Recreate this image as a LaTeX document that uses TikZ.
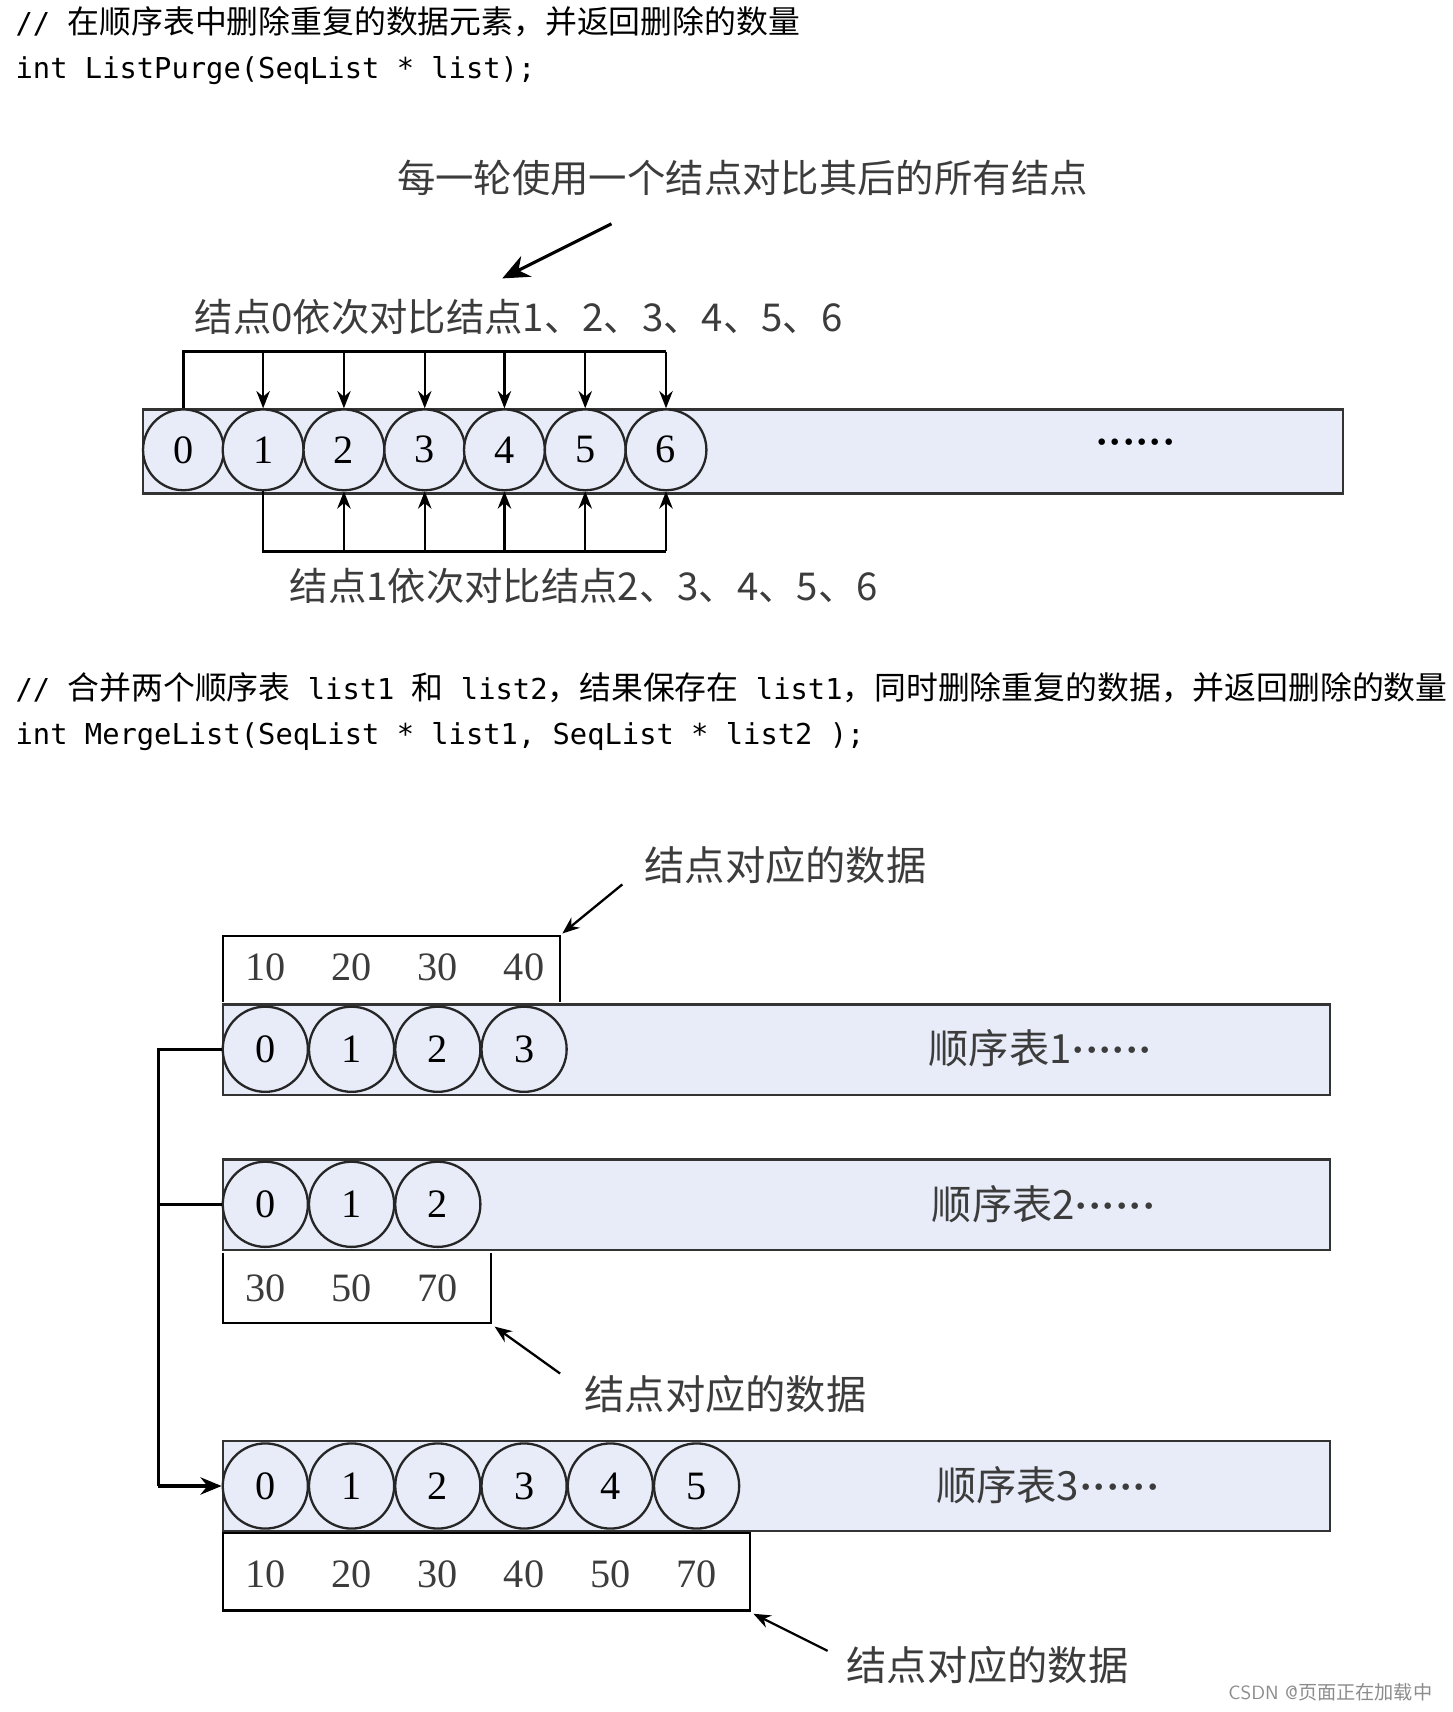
\documentclass[tikz,border=0pt]{standalone}
\usepackage{fontspec}
\setmainfont{Liberation Serif}
\setmonofont{DejaVu Sans Mono}
\newfontfamily\cjk{Noto Sans CJK SC}
\newcommand\cc[1]{{\cjk\fontsize{16.6}{18}\selectfont #1}}
\usetikzlibrary{positioning,arrows.meta}
\definecolor{barfill}{RGB}{232,236,248}
\definecolor{txtgrey}{RGB}{60,60,60}

\begin{document}
\begin{tikzpicture}[x=0.02cm,y=-0.02cm,
   bar/.style={draw=black!80,line width=1.2pt,fill=barfill},
   cell/.style={circle,draw=black!85,line width=1.2pt,fill=barfill,minimum size=1.48cm,inner sep=0pt,
                font=\fontsize{21}{24}\selectfont},
   num/.style={font=\fontsize{21}{24}\selectfont,text=txtgrey},
   code/.style={anchor=west,inner sep=0pt,font=\ttfamily\fontsize{15}{18}\selectfont},
   note/.style={font=\cjk\fontsize{20}{24}\selectfont,text=txtgrey,inner sep=0pt},
   link/.style={line width=1.2pt,-{Stealth[length=9pt,width=7pt]}},
   bigtip/.style={line width=1.6pt,-{Stealth[length=14pt,width=12pt]}},
   tie/.style={line width=1.6pt}]
   \useasboundingbox (0,0) rectangle (1330,1568);
   % code lines
   \node[code] (l1) at (14,20) {// \cc{在顺序表中删除重复的数据元素，并返回删除的数量}};
   \node[code] (l2) at (14,65) {int ListPurge(SeqList * list);};
   \node[code] (l3) at (14,630) {// \cc{合并两个顺序表} list1 \cc{和} list2\cc{，结果保存在} list1\cc{，同时删除重复的数据，并返回删除的数量}};
   \node[code] (l4) at (14,675) {int MergeList(SeqList * list1, SeqList * list2 );};

   % first picture
   \node[note] (title) at (680,163) {每一轮使用一个结点对比其后的所有结点};
   \coordinate (ta) at (560,205);
   \coordinate (tb) at (460,255);
   \draw[bigtip] (ta) -- (tb);
   \node[note,anchor=west] (top) at (178,290) {结点0依次对比结点1、2、3、4、5、6};
   \draw[bar] (131,375) rectangle (1230,452);
   \foreach \i/\x in {0/168,1/241,2/315,3/389,4/462,5/536,6/610}
      \node[cell] (c\i) at (\x,412) {\i};
   \node[font=\fontsize{21}{24}\selectfont] (dots) at (1040,410) {\textbf{\textperiodcentered\textperiodcentered\textperiodcentered\textperiodcentered\textperiodcentered\textperiodcentered}};
   \coordinate (u0) at (168,322);
   \coordinate (u6) at (610,322);
   \draw[line width=1.2pt] (c0.north) -- (u0) -- (u6);
   \foreach \i in {1,...,6}
      \draw[link] (c\i.north |- u0) -- (c\i.north);
   \coordinate (d1) at (241,505);
   \coordinate (d6) at (610,505);
   \draw[line width=1.2pt] (c1.south) -- (d1) -- (d6);
   \foreach \i in {2,...,6}
      \draw[link] (c\i.south |- d1) -- (c\i.south);
   \node[note,anchor=west] (bottom) at (265,537) {结点1依次对比结点2、3、4、5、6};

   % second picture
   \node[note,anchor=west,font=\cjk\fontsize{21}{24}\selectfont] (n1) at (590,792) {结点对应的数据};
   \coordinate (n1a) at (570,810);
   \coordinate (n1b) at (515,855);
   \draw[link] (n1a) -- (n1b);
   \draw[line width=1.2pt] (204,918) -- (204,857) -- (513,857) -- (513,918);
   \foreach \v [count=\k from 0] in {10,20,30,40}
      \node[num] (p\k) at (243+79*\k,886) {\v};
   \draw[bar] (204,920) rectangle (1218,1003);
   \foreach \k in {0,...,3}
      \node[cell,minimum size=1.56cm] (a\k) at (243+79*\k,961) {\k};
   \node[note,anchor=west,font=\cjk\fontsize{21}{24}\selectfont] (s1) at (850,960) {顺序表1{\rmfamily\textbf{\textperiodcentered\textperiodcentered\textperiodcentered\textperiodcentered\textperiodcentered\textperiodcentered}}};

   \draw[bar] (204,1062) rectangle (1218,1145);
   \foreach \k in {0,...,2}
      \node[cell,minimum size=1.56cm] (b\k) at (243+79*\k,1103) {\k};
   \node[note,anchor=west,font=\cjk\fontsize{21}{24}\selectfont] (s2) at (853,1103) {顺序表2{\rmfamily\textbf{\textperiodcentered\textperiodcentered\textperiodcentered\textperiodcentered\textperiodcentered\textperiodcentered}}};
   \draw[line width=1.2pt] (204,1148) -- (204,1212) -- (450,1212) -- (450,1148);
   \foreach \v [count=\k from 0] in {30,50,70}
      \node[num] (q\k) at (243+79*\k,1180) {\v};
   \coordinate (n2a) at (513,1258);
   \coordinate (n2b) at (453,1215);
   \draw[link] (n2a) -- (n2b);
   \node[note,anchor=west,font=\cjk\fontsize{21}{24}\selectfont] (n2) at (535,1277) {结点对应的数据};

   \draw[bar] (204,1320) rectangle (1218,1402);
   \foreach \k in {0,...,5}
      \node[cell,minimum size=1.56cm] (e\k) at (243+79*\k,1361) {\k};
   \node[note,anchor=west,font=\cjk\fontsize{21}{24}\selectfont] (s3) at (857,1360) {顺序表3{\rmfamily\textbf{\textperiodcentered\textperiodcentered\textperiodcentered\textperiodcentered\textperiodcentered\textperiodcentered}}};
   \draw[line width=1.2pt] (204,1404) rectangle (687,1475);
   \foreach \v [count=\k from 0] in {10,20,30,40,50,70}
      \node[num] (r\k) at (243+79*\k,1442) {\v};
   \coordinate (n3a) at (758,1512);
   \coordinate (n3b) at (690,1478);
   \draw[link] (n3a) -- (n3b);
   \node[note,anchor=west,font=\cjk\fontsize{21}{24}\selectfont] (n3) at (775,1525) {结点对应的数据};

   % merge connector
   \coordinate (m1) at (145,961);
   \coordinate (m2) at (145,1103);
   \coordinate (m3) at (145,1361);
   \draw[tie] (a0.west) -- (m1) -- (m3);
   \draw[tie] (b0.west) -- (m2);
   \draw[tie,-{Stealth[length=11pt,width=9pt]}] (m3) -- (e0.west);

   \node[anchor=east,font=\sffamily\fontsize{10}{12}\selectfont,text=black!45] (wm) at (1318,1550) {CSDN @{\cjk 页面正在加载中}};
\end{tikzpicture}
\end{document}
